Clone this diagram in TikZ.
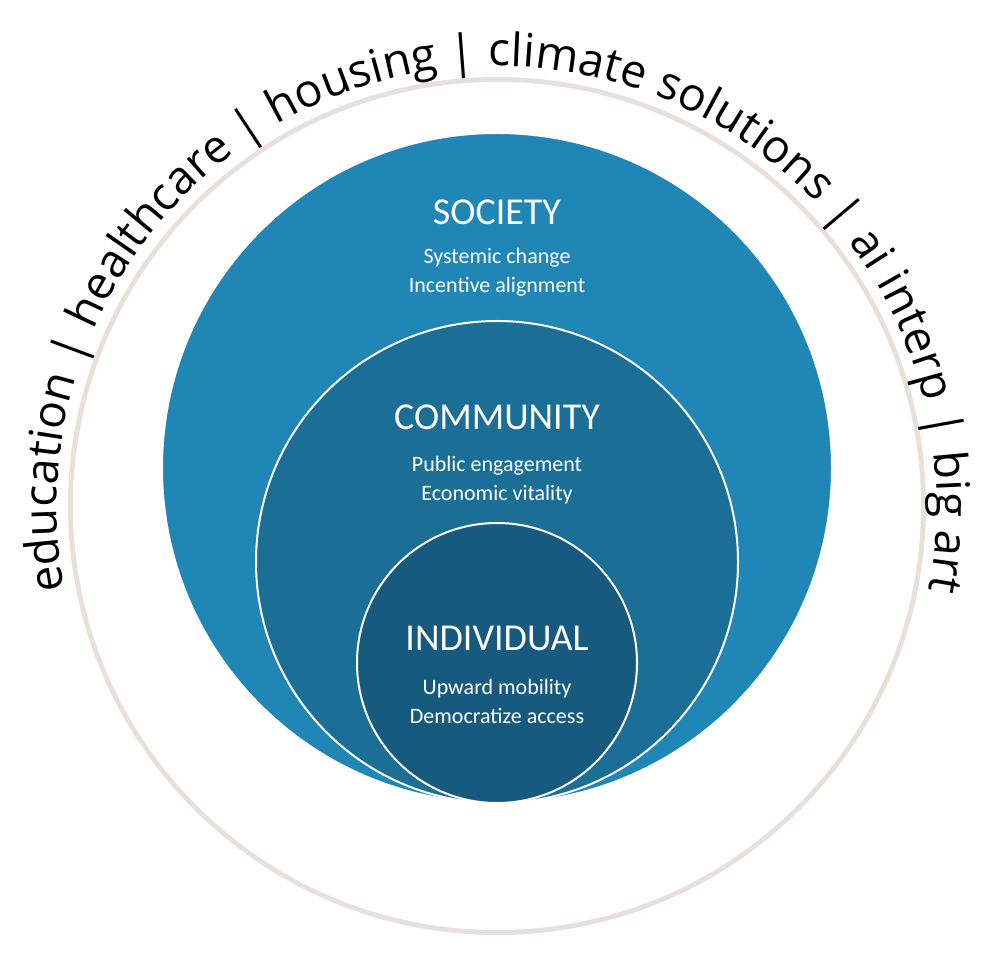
\documentclass[tikz,border=0pt]{standalone}
\usepackage{fontspec}
\setmainfont{Carlito}
\newfontfamily\arcfont{Open Sans}
\usetikzlibrary{decorations.text,calc}
\definecolor{soc}{HTML}{1F86B5}
\definecolor{com}{HTML}{1B6F97}
\definecolor{ind}{HTML}{175A7F}
\definecolor{pale}{HTML}{FCD8C8}
\definecolor{mid}{HTML}{F6B194}
\definecolor{sal}{HTML}{F3A07D}
\definecolor{glow}{HTML}{E8E0DC}
\pgfdeclareradialshading{ring}{\pgfpoint{0bp}{0bp}}{color(0bp)=(white);color(38bp)=(white);color(40bp)=(pale);color(45bp)=(mid);color(50bp)=(sal)}
\tikzset{
  disc/.style={draw=white,line width=2pt},
  title/.style={text=white,font=\fontsize{38}{40}\selectfont},
  sub/.style={text=white,font=\fontsize{22}{29}\selectfont,align=center},
}
\begin{document}
\begin{tikzpicture}[x=1pt,y=1pt]
\useasboundingbox (0,0) rectangle (1000,970);
\coordinate (c) at (497,464);
\fill[glow] (c) circle (429);
\shade[shading=ring] (c) circle (424);
\draw[disc,fill=soc] (497,502) circle (335);
\draw[disc,fill=com] (497,408) circle (241);
\draw[disc,fill=ind] (497,307) circle (140);
\node[title] (s) at (497,758) {SOCIETY};
\node[sub] (s2) at (497,698) {Systemic change\\Incentive alignment};
\node[title] (m) at (497,553) {COMMUNITY};
\node[sub] (m2) at (497,490) {Public engagement\\Economic vitality};
\node[title] (i) at (497,332) {INDIVIDUAL};
\node[sub] (i2) at (497,269) {Upward mobility\\Democratize access};
\path[decorate,decoration={text along path,text align=fit to path,
  text={|\arcfont\fontsize{46}{50}\selectfont|education {|} healthcare {|} housing {|} climate solutions {|} ai interp {|} big art}}]
  ($(c)+(191:440)$) arc[start angle=191,end angle=-11,radius=440];
\end{tikzpicture}
\end{document}
